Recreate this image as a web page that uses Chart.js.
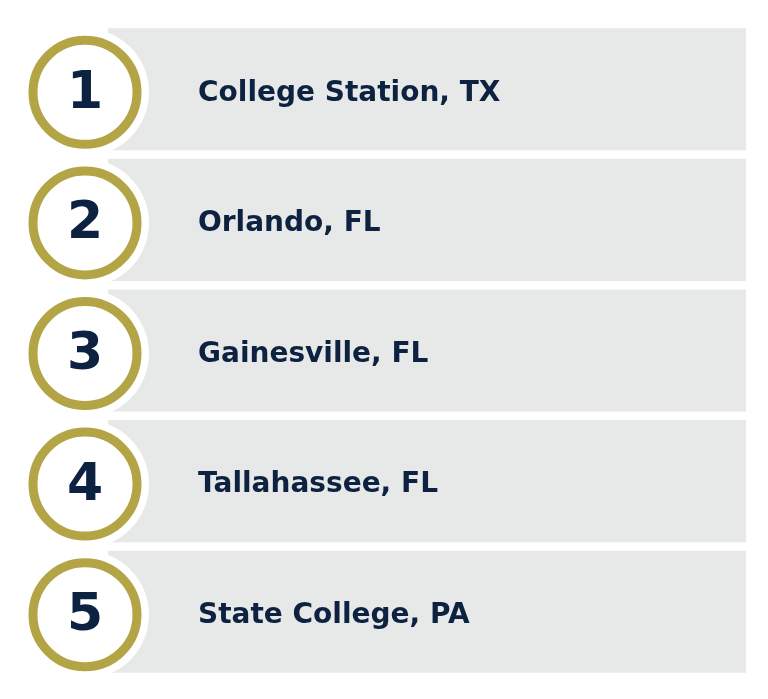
<!DOCTYPE html>
<html>
<head>
<meta charset="utf-8">
<script src="https://cdn.jsdelivr.net/npm/chart.js@4"></script>
<style>
  body { margin: 0; background: #fff; }
</style>
</head>
<body>
<canvas id="rankChart" width="768" height="699"></canvas>
<script>
var cities = ["College Station, TX", "Orlando, FL", "Gainesville, FL", "Tallahassee, FL", "State College, PA"];
var ranks = ["1", "2", "3", "4", "5"];
var barValues = [1, 1, 1, 1, 1];

var navy = "#0d2240";
var gold = "#b3a445";

// draws the numbered rings and city names on top of the bars
var badgePlugin = {
  id: 'badges',
  afterDatasetsDraw: function(chart) {
    var ctx = chart.ctx;
    var bars = chart.getDatasetMeta(0).data;
    ctx.save();
    for (var i = 0; i < bars.length; i++) {
      var y = bars[i].y + 3;
      ctx.beginPath();
      ctx.arc(85, y, 64, 0, Math.PI * 2);
      ctx.fillStyle = "#ffffff";
      ctx.fill();
      ctx.beginPath();
      ctx.arc(85, y, 52, 0, Math.PI * 2);
      ctx.lineWidth = 9;
      ctx.strokeStyle = gold;
      ctx.stroke();
      ctx.fillStyle = navy;
      ctx.textAlign = "center";
      ctx.textBaseline = "middle";
      ctx.font = "bold 52px 'DejaVu Sans'";
      ctx.fillText(ranks[i], 85, y + 2);
      ctx.textAlign = "left";
      ctx.font = "bold 28px 'DejaVu Sans'";
      ctx.fillText(cities[i], 198, y + 1);
    }
    ctx.restore();
  }
};

var chartJs = new Chart(document.getElementById("rankChart"), {
  type: 'bar',
  data: {
    labels: cities,
    datasets: [{
      data: barValues,
      backgroundColor: "#e7e8e8",
      categoryPercentage: 1,
      barPercentage: 0.935
    }]
  },
  options: {
    indexAxis: 'y',
    responsive: false,
    animation: false,
    layout: { padding: { left: 108, right: 22, top: 24, bottom: 22 } },
    plugins: { legend: { display: false }, tooltip: { enabled: false } },
    scales: {
      x: { display: false, min: 0, max: 1 },
      y: { display: false }
    }
  },
  plugins: [badgePlugin]
});
</script>
</body>
</html>
